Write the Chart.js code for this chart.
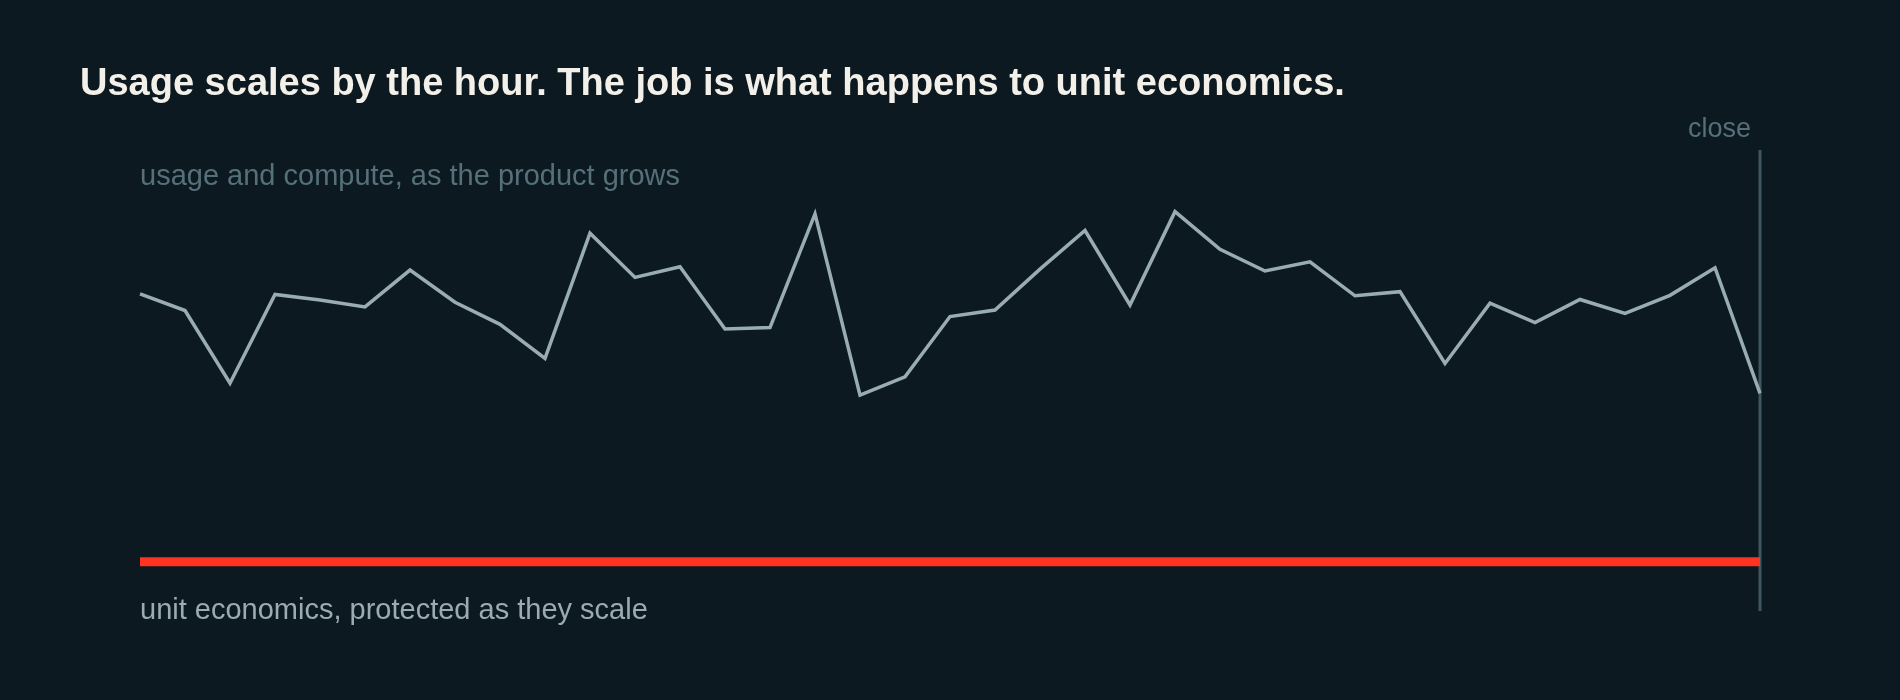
<!DOCTYPE html>
<html lang="en">
<head>
    <meta charset="UTF-8">
    <title>Usage scales by the hour</title>
    <script src="https://cdn.jsdelivr.net/npm/chart.js"></script>
    <style>
        html, body { margin: 0; padding: 0; background: #0c1920; }
        .wrap { position: relative; width: 1900px; height: 700px; }
    </style>
</head>
<body>
    <div class="wrap">
        <canvas id="usageChart" width="1900" height="700"></canvas>
    </div>

    <script>
        // hours along the run, one point each
        const hours = ['1', '2', '3', '4', '5', '6', '7', '8', '9', '10', '11', '12', '13',
            '14', '15', '16', '17', '18', '19', '20', '21', '22', '23', '24', '25',
            '26', '27', '28', '29', '30', '31', '32', '33', '34', '35', '36', '37'];

        // usage and compute (index, 0-100)
        const usage = [68.7, 65.1, 49.3, 68.6, 67.4, 65.9, 73.9, 66.9, 62.1, 54.7,
            81.9, 72.3, 74.6, 61.1, 61.4, 86.1, 46.7, 50.7, 63.8, 65.2,
            74.1, 82.5, 66.3, 86.6, 78.4, 73.7, 75.7, 68.3, 69.2, 53.6,
            66.7, 62.5, 67.5, 64.5, 68.4, 74.4, 47.1];

        // unit economics stay flat
        const unitLevel = 10.5;

        const titleText = 'Usage scales by the hour. The job is what happens to unit economics.';
        const topLabel = 'usage and compute, as the product grows';
        const bottomLabel = 'unit economics, protected as they scale';
        const closeLabel = 'close';

        const closeLine = {
            id: 'closeLine',
            beforeDatasetsDraw(chart) {
                const { ctx, chartArea, scales } = chart;
                const x = scales.x.getPixelForValue(hours.length - 1);
                ctx.save();
                ctx.strokeStyle = '#3e5660';
                ctx.lineWidth = 3;
                ctx.beginPath();
                ctx.moveTo(x, chartArea.top);
                ctx.lineTo(x, chartArea.bottom + 1);
                ctx.stroke();
                ctx.restore();
            }
        };

        const labels = {
            id: 'labels',
            afterDraw(chart) {
                const { ctx, chartArea, scales } = chart;
                ctx.save();
                ctx.textBaseline = 'alphabetic';

                ctx.fillStyle = '#f3f0ea';
                ctx.font = 'bold 38px "Liberation Sans", Arial, sans-serif';
                ctx.textAlign = 'left';
                ctx.fillText(titleText, 80, 95);

                ctx.fillStyle = '#56707a';
                ctx.font = '29px "Liberation Sans", Arial, sans-serif';
                ctx.fillText(topLabel, chartArea.left, 185);

                ctx.fillStyle = '#9aabb2';
                ctx.fillText(bottomLabel, chartArea.left, 619);

                ctx.fillStyle = '#56707a';
                ctx.font = '27px "Liberation Sans", Arial, sans-serif';
                ctx.textAlign = 'right';
                ctx.fillText(closeLabel, scales.x.getPixelForValue(hours.length - 1) - 9, 137);
                ctx.restore();
            }
        };

        const ctx = document.getElementById('usageChart').getContext('2d');
        new Chart(ctx, {
            type: 'line',
            data: {
                labels: hours,
                datasets: [
                    {
                        label: 'usage and compute',
                        data: usage,
                        borderColor: '#9aacb3',
                        borderWidth: 3.5,
                        pointRadius: 0,
                        tension: 0,
                        fill: false
                    },
                    {
                        label: 'unit economics',
                        data: hours.map(() => unitLevel),
                        borderColor: '#ff3322',
                        borderWidth: 9,
                        borderCapStyle: 'butt',
                        pointRadius: 0,
                        fill: false
                    }
                ]
            },
            options: {
                responsive: false,
                animation: false,
                layout: { padding: { left: 140, right: 140, top: 150, bottom: 90 } },
                plugins: {
                    legend: { display: false },
                    tooltip: { enabled: false }
                },
                scales: {
                    x: { display: false, offset: false },
                    y: { display: false, min: 0, max: 100 }
                }
            },
            plugins: [closeLine, labels]
        });
    </script>
</body>
</html>
